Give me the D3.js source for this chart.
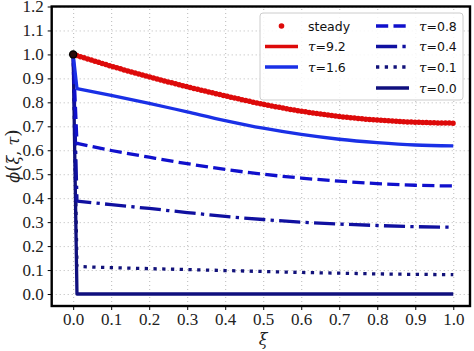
<!DOCTYPE html>
<html lang="en">
<head>
    <meta charset="UTF-8">
    <title>phi(xi, tau)</title>
    <script src="https://d3js.org/d3.v7.min.js"></script>
    <style>
        body { margin: 0; background: #fff; }
        svg { display: block; }
    </style>
</head>
<body>
    <svg></svg>
    <script>
        // grid positions xi (boundary at 0, first node at 0.01)
        const xi = [0, 0.01, 0.1, 0.2, 0.3, 0.4, 0.5, 0.6, 0.7, 0.8, 0.9, 1.0];
        const xiSteady = [0, 0.1, 0.2, 0.3, 0.4, 0.5, 0.6, 0.7, 0.8, 0.9, 1.0];

        const steady = [1.0, 0.951, 0.906, 0.865, 0.827, 0.792, 0.763, 0.741, 0.726, 0.717, 0.713];
        const tau92  = [1.0, 0.951, 0.906, 0.865, 0.827, 0.792, 0.763, 0.741, 0.726, 0.717, 0.713];
        const tau16  = [1.0, 0.857, 0.829, 0.796, 0.760, 0.724, 0.692, 0.666, 0.646, 0.632, 0.622, 0.618];
        const tau08  = [1.0, 0.629, 0.599, 0.571, 0.544, 0.520, 0.500, 0.484, 0.471, 0.461, 0.454, 0.451];
        const tau04  = [1.0, 0.388, 0.373, 0.357, 0.340, 0.324, 0.311, 0.300, 0.292, 0.286, 0.281, 0.279];
        const tau01  = [1.0, 0.115, 0.110, 0.106, 0.102, 0.098, 0.094, 0.090, 0.087, 0.084, 0.082, 0.081];
        const tau00  = [1.0, 0, 0, 0, 0, 0, 0, 0, 0, 0, 0, 0];

        const xTicks = [0, 0.1, 0.2, 0.3, 0.4, 0.5, 0.6, 0.7, 0.8, 0.9, 1.0];
        const yTicks = [0, 0.1, 0.2, 0.3, 0.4, 0.5, 0.6, 0.7, 0.8, 0.9, 1.0, 1.1, 1.2];

        const lw = 3.3;
        const series = [
            { label: '0.0', values: tau00, color: '#10107e', dash: null },
            { label: '0.1', values: tau01, color: '#12127a', dash: [1 * lw, 1.65 * lw] },
            { label: '0.4', values: tau04, color: '#1010a0', dash: [6.4 * lw, 1.6 * lw, 1 * lw, 1.6 * lw] },
            { label: '0.8', values: tau08, color: '#1010cc', dash: [3.7 * lw, 1.6 * lw] },
            { label: '1.6', values: tau16, color: '#1a30e6', dash: null },
            { label: '9.2', values: tau92, color: '#dd0a0a', dash: null }
        ];

        const svgWidth = 474;
        const svgHeight = 351;
        const margin = { top: 6.5, right: 4, bottom: 45, left: 51.7 };
        const width = svgWidth - margin.left - margin.right;
        const height = svgHeight - margin.top - margin.bottom;

        const svg = d3.select('svg')
            .attr('width', svgWidth)
            .attr('height', svgHeight);

        const g = svg.append('g')
            .attr('transform', `translate(${margin.left},${margin.top})`);

        const x = d3.scaleLinear().domain([-0.0565, 1.044]).range([0, width]);
        const y = d3.scaleLinear().domain([-0.05, 1.2]).range([height, 0]);

        // dotted grid
        g.append('g')
            .attr('transform', `translate(0, ${height})`)
            .call(d3.axisBottom(x).tickValues(xTicks).tickSize(-height).tickFormat(''))
            .call(a => a.select('.domain').remove())
            .selectAll('line')
            .attr('stroke', '#b8b8b8').attr('stroke-width', 1).attr('stroke-dasharray', '1,3');
        g.append('g')
            .call(d3.axisLeft(y).tickValues(yTicks).tickSize(-width).tickFormat(''))
            .call(a => a.select('.domain').remove())
            .selectAll('line')
            .attr('stroke', '#b8b8b8').attr('stroke-width', 1).attr('stroke-dasharray', '1,3');

        // curves: straight jump from boundary node, smooth afterwards
        const smooth = d3.line()
            .x(d => x(d[0]))
            .y(d => y(d[1]))
            .curve(d3.curveMonotoneX);

        function curvePath(xs, vs) {
            const pts = xs.map((v, i) => [v, vs[i]]);
            const rest = smooth(pts.slice(1));
            return `M${x(pts[0][0])},${y(pts[0][1])}L` + rest.slice(1);
        }

        const plot = g.append('g');
        series.forEach(s => {
            const d = s.values === tau92
                ? smooth(xiSteady.map((v, i) => [v, s.values[i]]))
                : curvePath(xi, s.values);
            plot.append('path')
                .attr('d', d)
                .attr('fill', 'none')
                .attr('stroke', s.color)
                .attr('stroke-width', lw)
                .attr('stroke-linejoin', 'round')
                .attr('stroke-dasharray', s.dash ? s.dash.join(',') : null);
        });

        // steady solution as dense red dots
        plot.append('path')
            .attr('d', smooth(xiSteady.map((v, i) => [v, steady[i]])))
            .attr('fill', 'none')
            .attr('stroke', '#dd0a0a')
            .attr('stroke-width', 5.5)
            .attr('stroke-linecap', 'round')
            .attr('stroke-dasharray', '0,3.8');

        plot.append('circle')
            .attr('cx', x(0)).attr('cy', y(1))
            .attr('r', 3.6)
            .attr('fill', '#2a0a0a')
            .attr('stroke', '#000')
            .attr('stroke-width', 1.2);

        // tick labels
        const tickFont = '"Liberation Serif", serif';
        const greekFont = '"DejaVu Serif", serif';
        g.append('g')
            .attr('transform', `translate(0, ${height})`)
            .call(d3.axisBottom(x).tickValues(xTicks).tickSize(4).tickPadding(3).tickFormat(d3.format('.1f')))
            .call(a => a.select('.domain').remove())
            .call(a => a.selectAll('text').attr('font-family', tickFont).attr('font-size', 17).attr('fill', '#222'));
        g.append('g')
            .call(d3.axisLeft(y).tickValues(yTicks).tickSize(4).tickPadding(4).tickFormat(d3.format('.1f')))
            .call(a => a.select('.domain').remove())
            .call(a => a.selectAll('text').attr('font-family', tickFont).attr('font-size', 17).attr('fill', '#222'));

        // frame
        g.append('rect')
            .attr('width', width).attr('height', height)
            .attr('fill', 'none').attr('stroke', '#000').attr('stroke-width', 2.4);

        // axis labels
        svg.append('text')
            .attr('x', margin.left + x(0.5)).attr('y', 345)
            .attr('text-anchor', 'middle')
            .attr('font-family', greekFont).attr('font-style', 'italic').attr('font-size', 16)
            .attr('fill', '#222')
            .text('ξ');
        svg.append('text')
            .attr('transform', 'translate(19, 156) rotate(-90)')
            .attr('text-anchor', 'middle')
            .attr('font-family', greekFont).attr('font-size', 16).attr('fill', '#222')
            .html('<tspan font-style="italic">ϕ</tspan><tspan font-size="19">(</tspan><tspan font-style="italic">ξ</tspan>, <tspan font-style="italic">τ</tspan><tspan font-size="19">)</tspan>');

        // legend
        const leg = svg.append('g');
        leg.append('rect')
            .attr('x', 260).attr('y', 13).attr('width', 203).attr('height', 87)
            .attr('rx', 3)
            .attr('fill', 'rgba(255,255,255,0.85)')
            .attr('stroke', '#cccccc').attr('stroke-width', 1);

        const legendItems = [
            { col: 0, row: 0, label: 'steady', dot: true },
            { col: 0, row: 1, s: series[5] },
            { col: 0, row: 2, s: series[4] },
            { col: 1, row: 0, s: series[3] },
            { col: 1, row: 1, s: series[2] },
            { col: 1, row: 2, s: series[1] },
            { col: 1, row: 3, s: series[0] }
        ];
        const colX = [265, 376];
        const rowY = [26, 46.5, 67, 88];
        legendItems.forEach(it => {
            const x0 = colX[it.col];
            const yy = rowY[it.row];
            if (it.dot) {
                leg.append('circle').attr('cx', x0 + 16.5).attr('cy', yy).attr('r', 2.8).attr('fill', '#dd0a0a');
            } else {
                leg.append('line')
                    .attr('x1', x0).attr('x2', x0 + 33).attr('y1', yy).attr('y2', yy)
                    .attr('stroke', it.s.color).attr('stroke-width', lw)
                    .attr('stroke-dasharray', it.s.dash ? it.s.dash.join(',') : null);
            }
            const t = leg.append('text')
                .attr('x', x0 + 43).attr('y', yy + 4.5)
                .attr('font-family', '"DejaVu Sans", sans-serif').attr('font-size', 12.5).attr('fill', '#111');
            if (it.dot) {
                t.text(it.label);
            } else {
                t.append('tspan').attr('font-family', greekFont).attr('font-style', 'italic').attr('font-size', 13.5).text('τ');
                t.append('tspan').text('=' + it.s.label);
            }
        });
    </script>
</body>
</html>
